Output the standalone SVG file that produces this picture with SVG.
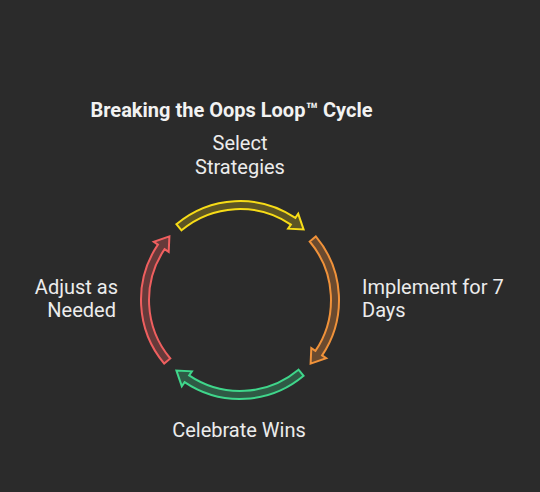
<svg xmlns="http://www.w3.org/2000/svg" width="540" height="492" viewBox="0 0 540 492">
<style>
.t{font-family:Roboto,"Liberation Sans",sans-serif;font-size:20px;fill:#ececec}
.title{font-family:Roboto,"Liberation Sans",sans-serif;font-size:20px;font-weight:700;fill:#f2f2f2}
.arr{stroke-width:2;stroke-linejoin:miter}
</style>
<defs>
<path id="arc" d="M176.4,224.2 A99,99 0 0 1 295.4,217.9 L298.2,213.8 L303.6,229.4 L288.1,228.7 L290.9,224.6 A91,91 0 0 0 181.5,230.3 Z"/>
</defs>
<rect width="540" height="492" fill="#2b2b2b"/>
<text class="title" x="231.5" y="116.5" text-anchor="middle">Breaking the Oops Loop™ Cycle</text>
<g id="connectors">
<use href="#arc" class="arr" fill="#5c5424" stroke="#f7dc17"/>
<use href="#arc" class="arr" fill="#6a4a2f" stroke="#f0923a" transform="rotate(90 240 300)"/>
<use href="#arc" class="arr" fill="#2f5a45" stroke="#3fd68b" transform="rotate(180 240 300)"/>
<use href="#arc" class="arr" fill="#663a3a" stroke="#ef5f5f" transform="rotate(270 240 300)"/>
</g>
<g id="node-select">
<text class="t" x="240" y="150" text-anchor="middle">Select</text>
<text class="t" x="240" y="173.5" text-anchor="middle">Strategies</text>
</g>
<g id="node-implement">
<text class="t" x="362" y="294">Implement for 7</text>
<text class="t" x="362" y="317">Days</text>
</g>
<g id="node-celebrate">
<text class="t" x="239" y="437" text-anchor="middle">Celebrate Wins</text>
</g>
<g id="node-adjust">
<text class="t" x="118" y="294" text-anchor="end">Adjust as</text>
<text class="t" x="116" y="317" text-anchor="end">Needed</text>
</g>
</svg>
